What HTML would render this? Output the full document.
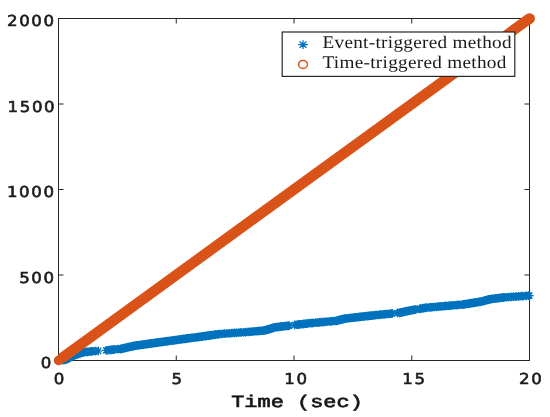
<!DOCTYPE html>
<html lang="en"><head><meta charset="utf-8"><title>Event-triggered vs Time-triggered</title>
<style>
html,body{margin:0;padding:0;background:#fff;}
svg{display:block}
text{text-rendering:geometricPrecision;}
.tick{font-family:"DejaVu Sans","Liberation Sans",sans-serif;font-size:15.1px;fill:#1c1c1c;stroke:#1c1c1c;stroke-width:0.62px;letter-spacing:1.45px;}
.xl{font-family:"Liberation Mono","DejaVu Sans Mono",monospace;font-weight:normal;font-size:17px;fill:#151515;stroke:#151515;stroke-width:0.6px;}
.lg{font-family:"Liberation Serif","DejaVu Serif",serif;font-size:17.8px;fill:#1a1a1a;letter-spacing:0.27px;}
</style></head><body>
<svg width="550" height="417" viewBox="0 0 550 417">
<rect width="550" height="417" fill="#fff"/>

<g stroke="#262626" stroke-width="1" fill="none">
<rect x="58.5" y="18.5" width="471.0" height="342.0"/>
<path d="M58.50 360.5v-5.0M58.50 18.5v5.0"/>
<path d="M176.25 360.5v-5.0M176.25 18.5v5.0"/>
<path d="M294.00 360.5v-5.0M294.00 18.5v5.0"/>
<path d="M411.75 360.5v-5.0M411.75 18.5v5.0"/>
<path d="M529.50 360.5v-5.0M529.50 18.5v5.0"/>
<path d="M58.5 360.50h5.0M529.5 360.50h-5.0"/>
<path d="M58.5 275.00h5.0M529.5 275.00h-5.0"/>
<path d="M58.5 189.50h5.0M529.5 189.50h-5.0"/>
<path d="M58.5 104.00h5.0M529.5 104.00h-5.0"/>
<path d="M58.5 18.50h5.0M529.5 18.50h-5.0"/>
</g>
<path d="M75.0 355.06L76.5 354.52L78.0 353.98L79.5 353.44L81.0 352.91L82.5 352.37L84.0 352.17L85.5 352.02L87.0 351.87L88.5 351.71L90.0 351.56L91.5 351.41L93.0 351.26L94.5 351.15L96.0 351.07L97.5 350.99M109.5 350.01L111.0 349.83L112.5 349.65L114.0 349.48L115.5 349.30L117.0 349.23L118.5 349.17L120.0 349.10L121.5 348.76L123.0 348.42L124.5 348.08L126.0 347.74L127.5 347.40L129.0 347.06L130.5 346.72L132.0 346.38L133.5 346.04L135.0 345.70L136.5 345.49L138.0 345.28L139.5 345.07L141.0 344.87L142.5 344.66L144.0 344.45L145.5 344.24L147.0 344.03L148.5 343.82L150.0 343.61L151.5 343.41L153.0 343.20L154.5 342.99L156.0 342.78L157.5 342.57L159.0 342.36L160.5 342.15L162.0 341.95L163.5 341.74L165.0 341.53L166.5 341.32L168.0 341.11L169.5 340.90L171.0 340.70L172.5 340.49L174.0 340.28L175.5 340.07L177.0 339.87L178.5 339.67L180.0 339.47L181.5 339.27L183.0 339.07L184.5 338.87L186.0 338.67L187.5 338.47L189.0 338.27L190.5 338.07L192.0 337.87L193.5 337.67L195.0 337.47L196.5 337.27L198.0 337.07L199.5 336.87L201.0 336.66L202.5 336.45L204.0 336.24L205.5 336.03L207.0 335.82L208.5 335.61L210.0 335.40L211.5 335.19L213.0 334.98L214.5 334.77L216.0 334.56L217.5 334.35L219.0 334.14L220.5 333.96L222.0 333.85L223.5 333.74L225.0 333.63L226.5 333.52L228.0 333.41L229.5 333.30L231.0 333.19L232.5 333.08L234.0 332.97L235.5 332.86L237.0 332.75L238.5 332.64L240.0 332.53L241.5 332.42L243.0 332.31L244.5 332.20L246.0 332.09L247.5 331.98L249.0 331.87L250.5 331.75L252.0 331.61L253.5 331.47L255.0 331.33L256.5 331.19L258.0 331.05L259.5 330.91L261.0 330.77L262.5 330.63L264.0 330.49L265.5 330.25L267.0 329.78L268.5 329.31L270.0 328.85L271.5 328.38L273.0 327.92L274.5 327.45L276.0 327.18L277.5 327.00L279.0 326.82L280.5 326.64L282.0 326.46L283.5 326.28L285.0 326.10L286.5 325.92M297.0 324.69L298.5 324.52L300.0 324.35L301.5 324.18L303.0 324.00L304.5 323.83L306.0 323.66L307.5 323.49L309.0 323.31L310.5 323.16L312.0 323.02L313.5 322.89L315.0 322.76L316.5 322.62L318.0 322.49L319.5 322.36L321.0 322.23L322.5 322.09L324.0 321.96L325.5 321.83L327.0 321.70L328.5 321.56L330.0 321.43L331.5 321.30L333.0 321.17L334.5 321.03L336.0 320.90L337.5 320.52L339.0 320.13L340.5 319.75L342.0 319.37L343.5 318.98L345.0 318.60L346.5 318.43L348.0 318.26L349.5 318.09L351.0 317.91L352.5 317.74L354.0 317.57L355.5 317.40L357.0 317.23L358.5 317.06L360.0 316.89L361.5 316.71L363.0 316.54L364.5 316.37L366.0 316.20L367.5 316.03L369.0 315.86L370.5 315.69L372.0 315.51L373.5 315.35L375.0 315.20L376.5 315.05L378.0 314.90L379.5 314.75L381.0 314.60L382.5 314.45L384.0 314.30L385.5 314.15L387.0 314.00L388.5 313.85L390.0 313.70M399.0 312.80L400.5 312.59L402.0 312.25L403.5 311.91L405.0 311.57L406.5 311.24L408.0 310.90L409.5 310.63L411.0 310.37L412.5 310.10M423.0 308.23L424.5 307.97L426.0 307.70L427.5 307.57L429.0 307.44L430.5 307.31L432.0 307.18L433.5 307.05L435.0 306.92L436.5 306.79L438.0 306.66L439.5 306.53L441.0 306.40L442.5 306.27L444.0 306.14L445.5 306.01L447.0 305.88L448.5 305.75L450.0 305.62L451.5 305.49L453.0 305.36L454.5 305.24L456.0 305.11L457.5 304.98L459.0 304.85L460.5 304.72L462.0 304.59L463.5 304.42L465.0 304.18L466.5 303.94L468.0 303.69L469.5 303.45L471.0 303.21L472.5 302.97L474.0 302.73L475.5 302.49L477.0 302.24L478.5 302.00L480.0 301.76L481.5 301.47L483.0 301.07L484.5 300.67L486.0 300.27L487.5 299.87L489.0 299.47L490.5 299.14L492.0 298.95L493.5 298.76L495.0 298.57L496.5 298.38L498.0 298.19L499.5 298.00L501.0 297.81L502.5 297.62L504.0 297.43L505.5 297.27L507.0 297.17L508.5 297.07L510.0 296.97L511.5 296.87L513.0 296.77L514.5 296.67L516.0 296.57L517.5 296.47L519.0 296.37L520.5 296.26L522.0 296.15L523.5 296.04L525.0 295.93L526.5 295.82" stroke="#0072BD" stroke-width="7.6" fill="none" stroke-linejoin="round"/>
<path d="M54.28 360.50H62.48M58.38 356.15V364.85M55.48 357.42L61.28 363.58M55.48 363.58L61.28 357.42M56.44 360.33H64.64M60.54 355.98V364.68M57.64 357.25L63.43 363.40M57.64 363.40L63.43 357.25M58.74 360.16H66.94M62.84 355.81V364.51M59.94 357.08L65.74 363.23M59.94 363.23L65.74 357.08M59.29 359.99H67.49M63.39 355.64V364.34M60.49 356.91L66.29 363.06M60.49 363.06L66.29 356.91M60.56 359.82H68.76M64.66 355.47V364.17M61.77 356.74L67.56 362.89M61.77 362.89L67.56 356.74M61.40 359.64H69.60M65.50 355.29V364.00M62.60 356.57L68.40 362.72M62.60 362.72L68.40 356.57M62.03 359.47H70.23M66.13 355.12V363.82M63.23 356.40L69.03 362.55M63.23 362.55L69.03 356.40M62.63 359.30H70.83M66.73 354.95V363.65M63.83 356.23L69.63 362.38M63.83 362.38L69.63 356.23M62.58 359.13H70.78M66.68 354.78V363.48M63.78 356.06L69.58 362.21M63.78 362.21L69.58 356.06M63.14 358.96H71.34M67.24 354.61V363.31M64.34 355.89L70.13 362.04M64.34 362.04L70.13 355.89M63.16 358.79H71.36M67.26 354.44V363.14M64.36 355.71L70.16 361.87M64.36 361.87L70.16 355.71M63.46 358.62H71.66M67.56 354.27V362.97M64.66 355.54L70.45 361.69M64.66 361.69L70.45 355.54M63.97 358.45H72.17M68.07 354.10V362.80M65.17 355.37L70.97 361.52M65.17 361.52L70.97 355.37M64.53 358.28H72.73M68.63 353.93V362.63M65.73 355.20L71.53 361.35M65.73 361.35L71.53 355.20M64.32 358.11H72.52M68.42 353.76V362.46M65.52 355.03L71.32 361.18M65.52 361.18L71.32 355.03M64.67 357.94H72.87M68.77 353.58V362.29M65.87 354.86L71.67 361.01M65.87 361.01L71.67 354.86M65.23 357.76H73.43M69.33 353.41V362.11M66.43 354.69L72.23 360.84M66.43 360.84L72.23 354.69M65.73 357.59H73.93M69.83 353.24V361.94M66.93 354.52L72.73 360.67M66.93 360.67L72.73 354.52M65.75 357.42H73.95M69.85 353.07V361.77M66.96 354.35L72.75 360.50M66.96 360.50L72.75 354.35M65.91 357.25H74.11M70.01 352.90V361.60M67.11 354.18L72.91 360.33M67.11 360.33L72.91 354.18M66.59 357.08H74.79M70.69 352.73V361.43M67.79 354.00L73.59 360.16M67.79 360.16L73.59 354.00M66.22 356.91H74.42M70.32 352.56V361.26M67.42 353.83L73.22 359.98M67.42 359.98L73.22 353.83M67.07 356.74H75.27M71.17 352.39V361.09M68.27 353.66L74.07 359.81M68.27 359.81L74.07 353.66M66.95 356.57H75.15M71.05 352.22V360.92M68.15 353.49L73.95 359.64M68.15 359.64L73.95 353.49M67.13 356.40H75.33M71.23 352.05V360.75M68.33 353.32L74.13 359.47M68.33 359.47L74.13 353.32M67.39 356.23H75.59M71.49 351.88V360.58M68.59 353.15L74.39 359.30M68.59 359.30L74.39 353.15M67.97 356.05H76.17M72.07 351.70V360.40M69.17 352.98L74.97 359.13M69.17 359.13L74.97 352.98M68.81 355.88H77.01M72.91 351.53V360.23M70.01 352.81L75.81 358.96M70.01 358.96L75.81 352.81M68.84 355.71H77.04M72.94 351.36V360.06M70.04 352.64L75.84 358.79M70.04 358.79L75.84 352.64M69.60 355.54H77.80M73.70 351.19V359.89M70.80 352.47L76.60 358.62M70.80 358.62L76.60 352.47M70.12 355.37H78.32M74.22 351.02V359.72M71.32 352.29L77.12 358.45M71.32 358.45L77.12 352.29M70.41 355.20H78.61M74.51 350.85V359.55M71.61 352.12L77.41 358.27M71.61 358.27L77.41 352.12M71.01 355.03H79.21M75.11 350.68V359.38M72.21 351.95L78.01 358.10M72.21 358.10L78.01 351.95M71.15 354.86H79.35M75.25 350.51V359.21M72.35 351.78L78.15 357.93M72.35 357.93L78.15 351.78M71.62 354.69H79.82M75.72 350.34V359.04M72.82 351.61L78.62 357.76M72.82 357.76L78.62 351.61M72.20 354.51H80.40M76.30 350.16V358.87M73.40 351.44L79.20 357.59M73.40 357.59L79.20 351.44M73.01 354.34H81.21M77.11 349.99V358.69M74.21 351.27L80.01 357.42M74.21 357.42L80.01 351.27M73.31 354.17H81.51M77.41 349.82V358.52M74.52 351.10L80.31 357.25M74.52 357.25L80.31 351.10M73.71 354.00H81.91M77.81 349.65V358.35M74.91 350.93L80.71 357.08M74.91 357.08L80.71 350.93M74.38 353.83H82.58M78.48 349.48V358.18M75.58 350.76L81.38 356.91M75.58 356.91L81.38 350.76M74.77 353.66H82.97M78.87 349.31V358.01M75.97 350.58L81.77 356.74M75.97 356.74L81.77 350.58M75.14 353.49H83.34M79.24 349.14V357.84M76.34 350.41L82.14 356.56M76.34 356.56L82.14 350.41M75.96 353.32H84.16M80.06 348.97V357.67M77.16 350.24L82.96 356.39M77.16 356.39L82.96 350.24M76.37 353.15H84.57M80.47 348.80V357.50M77.57 350.07L83.37 356.22M77.57 356.22L83.37 350.07M76.53 352.98H84.73M80.63 348.63V357.33M77.73 349.90L83.53 356.05M77.73 356.05L83.53 349.90M77.24 352.81H85.44M81.34 348.45V357.16M78.44 349.73L84.24 355.88M78.44 355.88L84.24 349.73M77.68 352.63H85.88M81.78 348.28V356.98M78.89 349.56L84.68 355.71M78.89 355.71L84.68 349.56M78.41 352.46H86.61M82.51 348.11V356.81M79.61 349.39L85.41 355.54M79.61 355.54L85.41 349.39M78.84 352.29H87.04M82.94 347.94V356.64M80.04 349.22L85.84 355.37M80.04 355.37L85.84 349.22M80.23 352.12H88.43M84.33 347.77V356.47M81.43 349.05L87.22 355.20M81.43 355.20L87.22 349.05M82.40 351.95H90.60M86.50 347.60V356.30M83.61 348.87L89.40 355.03M83.61 355.03L89.40 348.87M83.50 351.78H91.70M87.60 347.43V356.13M84.70 348.70L90.49 354.85M84.70 354.85L90.49 348.70M85.40 351.61H93.60M89.50 347.26V355.96M86.60 348.53L92.40 354.68M86.60 354.68L92.40 348.53M87.33 351.44H95.53M91.43 347.09V355.79M88.53 348.36L94.33 354.51M88.53 354.51L94.33 348.36M88.60 351.27H96.80M92.70 346.92V355.62M89.80 348.19L95.60 354.34M89.80 354.34L95.60 348.19M91.40 351.10H99.60M95.50 346.75V355.45M92.60 348.02L98.40 354.17M92.60 354.17L98.40 348.02M94.19 350.92H102.39M98.29 346.57V355.27M95.39 347.85L101.19 354.00M95.39 354.00L101.19 347.85M102.05 350.41H110.25M106.15 346.06V354.76M103.25 347.34L109.05 353.49M103.25 353.49L109.05 347.34M103.71 350.24H111.91M107.81 345.89V354.59M104.91 347.16L110.71 353.32M104.91 353.32L110.71 347.16M104.76 350.07H112.96M108.86 345.72V354.42M105.96 346.99L111.76 353.14M105.96 353.14L111.76 346.99M106.48 349.90H114.68M110.58 345.55V354.25M107.68 346.82L113.48 352.97M107.68 352.97L113.48 346.82M107.85 349.73H116.05M111.95 345.38V354.08M109.05 346.65L114.85 352.80M109.05 352.80L114.85 346.65M109.29 349.56H117.49M113.39 345.21V353.91M110.49 346.48L116.29 352.63M110.49 352.63L116.29 346.48M110.65 349.38H118.85M114.75 345.03V353.74M111.85 346.31L117.65 352.46M111.85 352.46L117.65 346.31M113.57 349.21H121.77M117.67 344.86V353.56M114.77 346.14L120.57 352.29M114.77 352.29L120.57 346.14M116.46 349.04H124.66M120.56 344.69V353.39M117.66 345.97L123.46 352.12M117.66 352.12L123.46 345.97M116.89 348.87H125.09M120.99 344.52V353.22M118.09 345.80L123.89 351.95M118.09 351.95L123.89 345.80M117.78 348.70H125.98M121.88 344.35V353.05M118.98 345.63L124.77 351.78M118.98 351.78L124.77 345.63M118.11 348.53H126.31M122.21 344.18V352.88M119.31 345.45L125.11 351.61M119.31 351.61L125.11 345.45M119.31 348.36H127.51M123.41 344.01V352.71M120.51 345.28L126.31 351.43M120.51 351.43L126.31 345.28M120.03 348.19H128.23M124.13 343.84V352.54M121.23 345.11L127.03 351.26M121.23 351.26L127.03 345.11M121.02 348.02H129.22M125.12 343.67V352.37M122.22 344.94L128.02 351.09M122.22 351.09L128.02 344.94M121.66 347.85H129.86M125.76 343.50V352.20M122.86 344.77L128.66 350.92M122.86 350.92L128.66 344.77M122.04 347.68H130.24M126.14 343.32V352.03M123.24 344.60L129.04 350.75M123.24 350.75L129.04 344.60M122.86 347.50H131.06M126.96 343.15V351.85M124.06 344.43L129.86 350.58M124.06 350.58L129.86 344.43M123.81 347.33H132.01M127.91 342.98V351.68M125.01 344.26L130.81 350.41M125.01 350.41L130.81 344.26M124.12 347.16H132.32M128.22 342.81V351.51M125.32 344.09L131.11 350.24M125.32 350.24L131.11 344.09M125.18 346.99H133.38M129.28 342.64V351.34M126.38 343.92L132.18 350.07M126.38 350.07L132.18 343.92M125.73 346.82H133.93M129.83 342.47V351.17M126.93 343.74L132.73 349.90M126.93 349.90L132.73 343.74M126.45 346.65H134.65M130.55 342.30V351.00M127.65 343.57L133.44 349.72M127.65 349.72L133.44 343.57M127.16 346.48H135.36M131.26 342.13V350.83M128.36 343.40L134.16 349.55M128.36 349.55L134.16 343.40M128.41 346.31H136.61M132.51 341.96V350.66M129.61 343.23L135.41 349.38M129.61 349.38L135.41 343.23M128.72 346.14H136.92M132.82 341.79V350.49M129.92 343.06L135.72 349.21M129.92 349.21L135.72 343.06M129.55 345.96H137.75M133.65 341.61V350.31M130.76 342.89L136.55 349.04M130.76 349.04L136.55 342.89M130.41 345.79H138.61M134.51 341.44V350.14M131.61 342.72L137.41 348.87M131.61 348.87L137.41 342.72M131.71 345.62H139.91M135.81 341.27V349.97M132.91 342.55L138.71 348.70M132.91 348.70L138.71 342.55M132.39 345.45H140.59M136.49 341.10V349.80M133.59 342.38L139.39 348.53M133.59 348.53L139.39 342.38M133.88 345.28H142.08M137.98 340.93V349.63M135.08 342.21L140.88 348.36M135.08 348.36L140.88 342.21M135.18 345.11H143.38M139.28 340.76V349.46M136.38 342.03L142.18 348.19M136.38 348.19L142.18 342.03M136.64 344.94H144.84M140.74 340.59V349.29M137.84 341.86L143.64 348.01M137.84 348.01L143.64 341.86M137.83 344.77H146.03M141.93 340.42V349.12M139.03 341.69L144.83 347.84M139.03 347.84L144.83 341.69M139.09 344.60H147.29M143.19 340.25V348.95M140.29 341.52L146.09 347.67M140.29 347.67L146.09 341.52M139.91 344.43H148.11M144.01 340.08V348.78M141.11 341.35L146.91 347.50M141.11 347.50L146.91 341.35M141.23 344.25H149.43M145.33 339.90V348.61M142.44 341.18L148.23 347.33M142.44 347.33L148.23 341.18M142.42 344.08H150.62M146.52 339.73V348.43M143.63 341.01L149.42 347.16M143.63 347.16L149.42 341.01M144.02 343.91H152.22M148.12 339.56V348.26M145.22 340.84L151.02 346.99M145.22 346.99L151.02 340.84M145.30 343.74H153.50M149.40 339.39V348.09M146.51 340.67L152.30 346.82M146.51 346.82L152.30 340.67M145.97 343.57H154.17M150.07 339.22V347.92M147.17 340.50L152.97 346.65M147.17 346.65L152.97 340.50M147.22 343.40H155.42M151.32 339.05V347.75M148.42 340.32L154.22 346.48M148.42 346.48L154.22 340.32M148.49 343.23H156.69M152.59 338.88V347.58M149.69 340.15L155.49 346.30M149.69 346.30L155.49 340.15M149.72 343.06H157.92M153.82 338.71V347.41M150.92 339.98L156.72 346.13M150.92 346.13L156.72 339.98M151.12 342.89H159.32M155.22 338.54V347.24M152.32 339.81L158.12 345.96M152.32 345.96L158.12 339.81M152.43 342.72H160.63M156.53 338.37V347.07M153.63 339.64L159.43 345.79M153.63 345.79L159.43 339.64M153.43 342.55H161.63M157.53 338.19V346.90M154.63 339.47L160.43 345.62M154.63 345.62L160.43 339.47M154.48 342.37H162.68M158.58 338.02V346.72M155.68 339.30L161.48 345.45M155.68 345.45L161.48 339.30M156.00 342.20H164.20M160.10 337.85V346.55M157.20 339.13L163.00 345.28M157.20 345.28L163.00 339.13M157.19 342.03H165.39M161.29 337.68V346.38M158.39 338.96L164.19 345.11M158.39 345.11L164.19 338.96M158.56 341.86H166.76M162.66 337.51V346.21M159.76 338.79L165.56 344.94M159.76 344.94L165.56 338.79M160.06 341.69H168.26M164.16 337.34V346.04M161.26 338.61L167.06 344.77M161.26 344.77L167.06 338.61M161.11 341.52H169.31M165.21 337.17V345.87M162.31 338.44L168.11 344.59M162.31 344.59L168.11 338.44M162.21 341.35H170.41M166.31 337.00V345.70M163.42 338.27L169.21 344.42M163.42 344.42L169.21 338.27M163.52 341.18H171.72M167.62 336.83V345.53M164.72 338.10L170.52 344.25M164.72 344.25L170.52 338.10M164.79 341.01H172.99M168.89 336.66V345.36M165.99 337.93L171.79 344.08M165.99 344.08L171.79 337.93M165.58 340.83H173.78M169.68 336.48V345.19M166.78 337.76L172.58 343.91M166.78 343.91L172.58 337.76M167.40 340.66H175.60M171.50 336.31V345.01M168.60 337.59L174.40 343.74M168.60 343.74L174.40 337.59M168.55 340.49H176.75M172.65 336.14V344.84M169.75 337.42L175.55 343.57M169.75 343.57L175.55 337.42M169.85 340.32H178.05M173.95 335.97V344.67M171.05 337.25L176.85 343.40M171.05 343.40L176.85 337.25M171.02 340.15H179.22M175.12 335.80V344.50M172.22 337.08L178.02 343.23M172.22 343.23L178.02 337.08M171.97 339.98H180.17M176.07 335.63V344.33M173.18 336.90L178.97 343.06M173.18 343.06L178.97 336.90M173.26 339.81H181.46M177.36 335.46V344.16M174.46 336.73L180.26 342.88M174.46 342.88L180.26 336.73M174.34 339.64H182.54M178.44 335.29V343.99M175.54 336.56L181.34 342.71M175.54 342.71L181.34 336.56M175.99 339.47H184.19M180.09 335.12V343.82M177.19 336.39L182.99 342.54M177.19 342.54L182.99 336.39M176.87 339.30H185.07M180.97 334.95V343.65M178.07 336.22L183.87 342.37M178.07 342.37L183.87 336.22M178.16 339.12H186.36M182.26 334.77V343.48M179.36 336.05L185.16 342.20M179.36 342.20L185.16 336.05M179.54 338.95H187.74M183.64 334.60V343.30M180.74 335.88L186.54 342.03M180.74 342.03L186.54 335.88M180.79 338.78H188.99M184.89 334.43V343.13M181.99 335.71L187.79 341.86M181.99 341.86L187.79 335.71M182.20 338.61H190.40M186.30 334.26V342.96M183.40 335.54L189.20 341.69M183.40 341.69L189.20 335.54M183.28 338.44H191.48M187.38 334.09V342.79M184.48 335.37L190.28 341.52M184.48 341.52L190.28 335.37M184.53 338.27H192.73M188.63 333.92V342.62M185.73 335.19L191.52 341.35M185.73 341.35L191.52 335.19M185.91 338.10H194.11M190.01 333.75V342.45M187.11 335.02L192.91 341.17M187.11 341.17L192.91 335.02M187.16 337.93H195.36M191.26 333.58V342.28M188.36 334.85L194.16 341.00M188.36 341.00L194.16 334.85M188.63 337.76H196.83M192.73 333.41V342.11M189.83 334.68L195.63 340.83M189.83 340.83L195.63 334.68M189.67 337.59H197.87M193.77 333.24V341.94M190.87 334.51L196.67 340.66M190.87 340.66L196.67 334.51M191.55 337.42H199.75M195.65 333.06V341.77M192.75 334.34L198.55 340.49M192.75 340.49L198.55 334.34M192.65 337.24H200.85M196.75 332.89V341.59M193.85 334.17L199.65 340.32M193.85 340.32L199.65 334.17M193.61 337.07H201.81M197.71 332.72V341.42M194.81 334.00L200.61 340.15M194.81 340.15L200.61 334.00M194.96 336.90H203.16M199.06 332.55V341.25M196.16 333.83L201.96 339.98M196.16 339.98L201.96 333.83M196.29 336.73H204.49M200.39 332.38V341.08M197.49 333.66L203.29 339.81M197.49 339.81L203.29 333.66M197.52 336.56H205.72M201.62 332.21V340.91M198.72 333.48L204.52 339.64M198.72 339.64L204.52 333.48M198.57 336.39H206.77M202.67 332.04V340.74M199.77 333.31L205.57 339.46M199.77 339.46L205.57 333.31M200.30 336.22H208.50M204.40 331.87V340.57M201.50 333.14L207.30 339.29M201.50 339.29L207.30 333.14M201.62 336.05H209.82M205.72 331.70V340.40M202.82 332.97L208.62 339.12M202.82 339.12L208.62 332.97M202.48 335.88H210.68M206.58 331.53V340.23M203.68 332.80L209.48 338.95M203.68 338.95L209.48 332.80M203.71 335.70H211.91M207.81 331.35V340.06M204.91 332.63L210.71 338.78M204.91 338.78L210.71 332.63M204.65 335.53H212.85M208.75 331.18V339.88M205.85 332.46L211.65 338.61M205.85 338.61L211.65 332.46M205.89 335.36H214.09M209.99 331.01V339.71M207.09 332.29L212.88 338.44M207.09 338.44L212.88 332.29M207.28 335.19H215.48M211.38 330.84V339.54M208.48 332.12L214.27 338.27M208.48 338.27L214.27 332.12M208.44 335.02H216.64M212.54 330.67V339.37M209.64 331.95L215.44 338.10M209.64 338.10L215.44 331.95M210.06 334.85H218.26M214.16 330.50V339.20M211.26 331.77L217.06 337.93M211.26 337.93L217.06 331.77M210.81 334.68H219.01M214.91 330.33V339.03M212.01 331.60L217.81 337.75M212.01 337.75L217.81 331.60M211.94 334.51H220.14M216.04 330.16V338.86M213.14 331.43L218.94 337.58M213.14 337.58L218.94 331.43M213.81 334.34H222.01M217.91 329.99V338.69M215.01 331.26L220.81 337.41M215.01 337.41L220.81 331.26M214.73 334.17H222.93M218.83 329.82V338.52M215.93 331.09L221.73 337.24M215.93 337.24L221.73 331.09M215.72 334.00H223.92M219.82 329.64V338.35M216.92 330.92L222.72 337.07M216.92 337.07L222.72 330.92M218.33 333.82H226.53M222.43 329.47V338.17M219.53 330.75L225.33 336.90M219.53 336.90L225.33 330.75M220.30 333.65H228.50M224.40 329.30V338.00M221.50 330.58L227.30 336.73M221.50 336.73L227.30 330.58M222.98 333.48H231.18M227.08 329.13V337.83M224.18 330.41L229.98 336.56M224.18 336.56L229.98 330.41M225.63 333.31H233.83M229.73 328.96V337.66M226.83 330.24L232.63 336.39M226.83 336.39L232.63 330.24M227.88 333.14H236.08M231.98 328.79V337.49M229.08 330.06L234.88 336.22M229.08 336.22L234.88 330.06M230.10 332.97H238.30M234.20 328.62V337.32M231.30 329.89L237.10 336.04M231.30 336.04L237.10 329.89M232.12 332.80H240.32M236.22 328.45V337.15M233.32 329.72L239.12 335.87M233.32 335.87L239.12 329.72M234.53 332.63H242.73M238.63 328.28V336.98M235.73 329.55L241.53 335.70M235.73 335.70L241.53 329.55M236.72 332.46H244.92M240.82 328.11V336.81M237.92 329.38L243.72 335.53M237.92 335.53L243.72 329.38M239.48 332.28H247.68M243.58 327.93V336.63M240.68 329.21L246.48 335.36M240.68 335.36L246.48 329.21M241.64 332.11H249.84M245.74 327.76V336.46M242.84 329.04L248.64 335.19M242.84 335.19L248.64 329.04M244.15 331.94H252.35M248.25 327.59V336.29M245.35 328.87L251.14 335.02M245.35 335.02L251.14 328.87M246.08 331.77H254.28M250.18 327.42V336.12M247.28 328.70L253.08 334.85M247.28 334.85L253.08 328.70M247.84 331.60H256.04M251.94 327.25V335.95M249.04 328.53L254.84 334.68M249.04 334.68L254.84 328.53M250.08 331.43H258.28M254.18 327.08V335.78M251.28 328.35L257.08 334.51M251.28 334.51L257.08 328.35M252.04 331.26H260.24M256.14 326.91V335.61M253.24 328.18L259.03 334.33M253.24 334.33L259.03 328.18M253.78 331.09H261.98M257.88 326.74V335.44M254.98 328.01L260.77 334.16M254.98 334.16L260.77 328.01M255.57 330.92H263.77M259.67 326.57V335.27M256.78 327.84L262.57 333.99M256.78 333.99L262.57 327.84M257.42 330.75H265.62M261.52 326.40V335.10M258.62 327.67L264.41 333.82M258.62 333.82L264.41 327.67M259.19 330.57H267.39M263.29 326.22V334.93M260.39 327.50L266.19 333.65M260.39 333.65L266.19 327.50M260.67 330.40H268.87M264.77 326.05V334.75M261.87 327.33L267.66 333.48M261.87 333.48L267.66 327.33M261.45 330.23H269.65M265.55 325.88V334.58M262.65 327.16L268.45 333.31M262.65 333.31L268.45 327.16M261.89 330.06H270.09M265.99 325.71V334.41M263.09 326.99L268.89 333.14M263.09 333.14L268.89 326.99M262.21 329.89H270.41M266.31 325.54V334.24M263.41 326.82L269.21 332.97M263.41 332.97L269.21 326.82M262.76 329.72H270.96M266.86 325.37V334.07M263.96 326.64L269.76 332.80M263.96 332.80L269.76 326.64M263.49 329.55H271.69M267.59 325.20V333.90M264.69 326.47L270.49 332.62M264.69 332.62L270.49 326.47M264.03 329.38H272.23M268.13 325.03V333.73M265.23 326.30L271.03 332.45M265.23 332.45L271.03 326.30M264.88 329.21H273.08M268.98 324.86V333.56M266.08 326.13L271.88 332.28M266.08 332.28L271.88 326.13M265.62 329.04H273.82M269.72 324.69V333.39M266.82 325.96L272.62 332.11M266.82 332.11L272.62 325.96M265.81 328.87H274.01M269.91 324.51V333.22M267.02 325.79L272.81 331.94M267.02 331.94L272.81 325.79M266.71 328.69H274.91M270.81 324.34V333.04M267.91 325.62L273.71 331.77M267.91 331.77L273.71 325.62M267.30 328.52H275.50M271.40 324.17V332.87M268.50 325.45L274.30 331.60M268.50 331.60L274.30 325.45M267.82 328.35H276.02M271.92 324.00V332.70M269.03 325.28L274.82 331.43M269.03 331.43L274.82 325.28M267.96 328.18H276.16M272.06 323.83V332.53M269.16 325.11L274.96 331.26M269.16 331.26L274.96 325.11M268.41 328.01H276.61M272.51 323.66V332.36M269.61 324.93L275.41 331.09M269.61 331.09L275.41 324.93M268.97 327.84H277.17M273.07 323.49V332.19M270.17 324.76L275.97 330.91M270.17 330.91L275.97 324.76M269.50 327.67H277.70M273.60 323.32V332.02M270.70 324.59L276.50 330.74M270.70 330.74L276.50 324.59M270.06 327.50H278.26M274.16 323.15V331.85M271.26 324.42L277.06 330.57M271.26 330.57L277.06 324.42M270.90 327.33H279.10M275.00 322.98V331.68M272.10 324.25L277.90 330.40M272.10 330.40L277.90 324.25M272.39 327.15H280.59M276.49 322.80V331.50M273.59 324.08L279.39 330.23M273.59 330.23L279.39 324.08M273.77 326.98H281.97M277.87 322.63V331.33M274.97 323.91L280.77 330.06M274.97 330.06L280.77 323.91M274.94 326.81H283.14M279.04 322.46V331.16M276.14 323.74L281.94 329.89M276.14 329.89L281.94 323.74M276.49 326.64H284.69M280.59 322.29V330.99M277.69 323.57L283.49 329.72M277.69 329.72L283.49 323.57M278.02 326.47H286.22M282.12 322.12V330.82M279.22 323.40L285.02 329.55M279.22 329.55L285.02 323.40M278.94 326.30H287.14M283.04 321.95V330.65M280.14 323.22L285.94 329.38M280.14 329.38L285.94 323.22M280.77 326.13H288.97M284.87 321.78V330.48M281.97 323.05L287.77 329.20M281.97 329.20L287.77 323.05M282.37 325.96H290.57M286.47 321.61V330.31M283.57 322.88L289.37 329.03M283.57 329.03L289.37 322.88M283.71 325.79H291.91M287.81 321.44V330.14M284.91 322.71L290.71 328.86M284.91 328.86L290.71 322.71M285.11 325.62H293.31M289.21 321.27V329.97M286.31 322.54L292.11 328.69M286.31 328.69L292.11 322.54M290.72 324.93H298.92M294.82 320.58V329.28M291.92 321.86L297.72 328.01M291.92 328.01L297.72 321.86M292.54 324.76H300.74M296.64 320.41V329.11M293.74 321.69L299.54 327.84M293.74 327.84L299.54 321.69M294.14 324.59H302.34M298.24 320.24V328.94M295.34 321.51L301.14 327.67M295.34 327.67L301.14 321.51M295.23 324.42H303.43M299.33 320.07V328.77M296.43 321.34L302.23 327.49M296.43 327.49L302.23 321.34M296.72 324.25H304.92M300.82 319.90V328.60M297.92 321.17L303.72 327.32M297.92 327.32L303.72 321.17M298.59 324.08H306.79M302.69 319.73V328.43M299.79 321.00L305.59 327.15M299.79 327.15L305.59 321.00M299.92 323.91H308.12M304.02 319.56V328.26M301.12 320.83L306.92 326.98M301.12 326.98L306.92 320.83M301.02 323.74H309.22M305.12 319.38V328.09M302.22 320.66L308.02 326.81M302.22 326.81L308.02 320.66M302.47 323.56H310.67M306.57 319.21V327.91M303.67 320.49L309.47 326.64M303.67 326.64L309.47 320.49M303.98 323.39H312.18M308.08 319.04V327.74M305.18 320.32L310.98 326.47M305.18 326.47L310.98 320.32M305.99 323.22H314.19M310.09 318.87V327.57M307.19 320.15L312.99 326.30M307.19 326.30L312.99 320.15M307.80 323.05H316.00M311.90 318.70V327.40M309.00 319.98L314.80 326.13M309.00 326.13L314.80 319.98M309.27 322.88H317.47M313.37 318.53V327.23M310.47 319.80L316.27 325.96M310.47 325.96L316.27 319.80M311.68 322.71H319.88M315.78 318.36V327.06M312.88 319.63L318.68 325.78M312.88 325.78L318.68 319.63M313.72 322.54H321.92M317.82 318.19V326.89M314.92 319.46L320.72 325.61M314.92 325.61L320.72 319.46M315.43 322.37H323.63M319.53 318.02V326.72M316.63 319.29L322.43 325.44M316.63 325.44L322.43 319.29M317.14 322.20H325.34M321.24 317.85V326.55M318.35 319.12L324.14 325.27M318.35 325.27L324.14 319.12M319.22 322.02H327.42M323.32 317.67V326.38M320.42 318.95L326.22 325.10M320.42 325.10L326.22 318.95M320.86 321.85H329.06M324.96 317.50V326.20M322.06 318.78L327.86 324.93M322.06 324.93L327.86 318.78M322.71 321.68H330.91M326.81 317.33V326.03M323.91 318.61L329.71 324.76M323.91 324.76L329.71 318.61M325.31 321.51H333.51M329.41 317.16V325.86M326.51 318.44L332.31 324.59M326.51 324.59L332.31 318.44M327.02 321.34H335.22M331.12 316.99V325.69M328.22 318.27L334.02 324.42M328.22 324.42L334.02 318.27M328.87 321.17H337.07M332.97 316.82V325.52M330.07 318.09L335.87 324.25M330.07 324.25L335.87 318.09M331.08 321.00H339.28M335.18 316.65V325.35M332.29 317.92L338.08 324.07M332.29 324.07L338.08 317.92M332.14 320.83H340.34M336.24 316.48V325.18M333.34 317.75L339.13 323.90M333.34 323.90L339.13 317.75M333.11 320.66H341.31M337.21 316.31V325.01M334.31 317.58L340.11 323.73M334.31 323.73L340.11 317.58M333.75 320.49H341.95M337.85 316.14V324.84M334.95 317.41L340.75 323.56M334.95 323.56L340.75 317.41M333.99 320.31H342.19M338.09 315.96V324.67M335.19 317.24L340.99 323.39M335.19 323.39L340.99 317.24M334.68 320.14H342.88M338.78 315.79V324.49M335.89 317.07L341.68 323.22M335.89 323.22L341.68 317.07M335.38 319.97H343.58M339.48 315.62V324.32M336.58 316.90L342.38 323.05M336.58 323.05L342.38 316.90M336.01 319.80H344.21M340.11 315.45V324.15M337.22 316.73L343.01 322.88M337.22 322.88L343.01 316.73M336.93 319.63H345.13M341.03 315.28V323.98M338.13 316.56L343.93 322.71M338.13 322.71L343.93 316.56M337.37 319.46H345.57M341.47 315.11V323.81M338.57 316.38L344.37 322.54M338.57 322.54L344.37 316.38M338.15 319.29H346.35M342.25 314.94V323.64M339.35 316.21L345.15 322.36M339.35 322.36L345.15 316.21M338.61 319.12H346.81M342.71 314.77V323.47M339.82 316.04L345.61 322.19M339.82 322.19L345.61 316.04M339.83 318.95H348.03M343.93 314.60V323.30M341.03 315.87L346.83 322.02M341.03 322.02L346.83 315.87M340.11 318.78H348.31M344.21 314.43V323.13M341.31 315.70L347.11 321.85M341.31 321.85L347.11 315.70M340.85 318.61H349.05M344.95 314.25V322.96M342.05 315.53L347.85 321.68M342.05 321.68L347.85 315.53M342.41 318.43H350.61M346.51 314.08V322.78M343.61 315.36L349.41 321.51M343.61 321.51L349.41 315.36M344.13 318.26H352.33M348.23 313.91V322.61M345.33 315.19L351.13 321.34M345.33 321.34L351.13 315.19M345.29 318.09H353.49M349.39 313.74V322.44M346.49 315.02L352.29 321.17M346.49 321.17L352.29 315.02M347.13 317.92H355.33M351.23 313.57V322.27M348.33 314.85L354.13 321.00M348.33 321.00L354.13 314.85M348.34 317.75H356.54M352.44 313.40V322.10M349.54 314.67L355.34 320.83M349.54 320.83L355.34 314.67M349.86 317.58H358.06M353.96 313.23V321.93M351.06 314.50L356.86 320.65M351.06 320.65L356.86 314.50M351.35 317.41H359.55M355.45 313.06V321.76M352.55 314.33L358.35 320.48M352.55 320.48L358.35 314.33M352.49 317.24H360.69M356.59 312.89V321.59M353.69 314.16L359.49 320.31M353.69 320.31L359.49 314.16M354.28 317.07H362.48M358.38 312.72V321.42M355.48 313.99L361.28 320.14M355.48 320.14L361.28 313.99M355.60 316.89H363.80M359.70 312.54V321.25M356.80 313.82L362.60 319.97M356.80 319.97L362.60 313.82M356.97 316.72H365.17M361.07 312.37V321.07M358.17 313.65L363.97 319.80M358.17 319.80L363.97 313.65M359.02 316.55H367.22M363.12 312.20V320.90M360.22 313.48L366.02 319.63M360.22 319.63L366.02 313.48M360.08 316.38H368.28M364.18 312.03V320.73M361.28 313.31L367.08 319.46M361.28 319.46L367.08 313.31M361.79 316.21H369.99M365.89 311.86V320.56M362.99 313.14L368.78 319.29M362.99 319.29L368.78 313.14M363.46 316.04H371.66M367.56 311.69V320.39M364.66 312.96L370.46 319.12M364.66 319.12L370.46 312.96M364.84 315.87H373.04M368.94 311.52V320.22M366.04 312.79L371.83 318.94M366.04 318.94L371.83 312.79M366.17 315.70H374.37M370.27 311.35V320.05M367.37 312.62L373.17 318.77M367.37 318.77L373.17 312.62M367.80 315.53H376.00M371.90 311.18V319.88M369.00 312.45L374.80 318.60M369.00 318.60L374.80 312.45M369.38 315.36H377.58M373.48 311.01V319.71M370.58 312.28L376.38 318.43M370.58 318.43L376.38 312.28M371.25 315.19H379.45M375.35 310.83V319.54M372.45 312.11L378.25 318.26M372.45 318.26L378.25 312.11M372.48 315.01H380.68M376.58 310.66V319.36M373.69 311.94L379.48 318.09M373.69 318.09L379.48 311.94M374.51 314.84H382.71M378.61 310.49V319.19M375.71 311.77L381.51 317.92M375.71 317.92L381.51 311.77M376.00 314.67H384.20M380.10 310.32V319.02M377.20 311.60L383.00 317.75M377.20 317.75L383.00 311.60M377.73 314.50H385.93M381.83 310.15V318.85M378.93 311.43L384.73 317.58M378.93 317.58L384.73 311.43M379.79 314.33H387.99M383.89 309.98V318.68M380.99 311.25L386.79 317.41M380.99 317.41L386.79 311.25M381.32 314.16H389.52M385.42 309.81V318.51M382.52 311.08L388.31 317.23M382.52 317.23L388.31 311.08M383.06 313.99H391.26M387.16 309.64V318.34M384.26 310.91L390.06 317.06M384.26 317.06L390.06 310.91M384.91 313.82H393.11M389.01 309.47V318.17M386.11 310.74L391.91 316.89M386.11 316.89L391.91 310.74M386.73 313.65H394.93M390.83 309.30V318.00M387.93 310.57L393.73 316.72M387.93 316.72L393.73 310.57M388.11 313.48H396.31M392.21 309.12V317.83M389.31 310.40L395.11 316.55M389.31 316.55L395.11 310.40M393.29 312.96H401.49M397.39 308.61V317.31M394.49 309.89L400.29 316.04M394.49 316.04L400.29 309.89M395.12 312.79H403.32M399.22 308.44V317.14M396.33 309.72L402.12 315.87M396.33 315.87L402.12 309.72M396.22 312.62H404.42M400.32 308.27V316.97M397.42 309.54L403.22 315.70M397.42 315.70L403.22 309.54M397.04 312.45H405.24M401.14 308.10V316.80M398.24 309.37L404.04 315.52M398.24 315.52L404.04 309.37M397.76 312.28H405.96M401.86 307.93V316.63M398.96 309.20L404.76 315.35M398.96 315.35L404.76 309.20M398.84 312.11H407.04M402.94 307.76V316.46M400.05 309.03L405.84 315.18M400.05 315.18L405.84 309.03M399.44 311.94H407.64M403.54 307.59V316.29M400.64 308.86L406.43 315.01M400.64 315.01L406.43 308.86M400.32 311.76H408.52M404.42 307.41V316.12M401.52 308.69L407.32 314.84M401.52 314.84L407.32 308.69M401.13 311.59H409.33M405.23 307.24V315.94M402.33 308.52L408.12 314.67M402.33 314.67L408.12 308.52M401.41 311.42H409.61M405.51 307.07V315.77M402.61 308.35L408.41 314.50M402.61 314.50L408.41 308.35M402.38 311.25H410.58M406.48 306.90V315.60M403.58 308.18L409.38 314.33M403.58 314.33L409.38 308.18M403.41 311.08H411.61M407.51 306.73V315.43M404.61 308.01L410.40 314.16M404.61 314.16L410.40 308.01M404.09 310.91H412.29M408.19 306.56V315.26M405.29 307.83L411.09 313.99M405.29 313.99L411.09 307.83M404.55 310.74H412.75M408.65 306.39V315.09M405.75 307.66L411.55 313.81M405.75 313.81L411.55 307.66M405.50 310.57H413.70M409.60 306.22V314.92M406.70 307.49L412.50 313.64M406.70 313.64L412.50 307.49M406.69 310.40H414.89M410.79 306.05V314.75M407.89 307.32L413.69 313.47M407.89 313.47L413.69 307.32M407.39 310.23H415.59M411.49 305.88V314.58M408.59 307.15L414.39 313.30M408.59 313.30L414.39 307.15M408.47 310.06H416.67M412.57 305.70V314.41M409.67 306.98L415.47 313.13M409.67 313.13L415.47 306.98M409.32 309.88H417.52M413.42 305.53V314.23M410.52 306.81L416.32 312.96M410.52 312.96L416.32 306.81M410.70 309.71H418.90M414.80 305.36V314.06M411.90 306.64L417.69 312.79M411.90 312.79L417.69 306.64M411.74 309.54H419.94M415.84 305.19V313.89M412.94 306.47L418.74 312.62M412.94 312.62L418.74 306.47M415.50 308.86H423.70M419.60 304.51V313.21M416.70 305.78L422.50 311.93M416.70 311.93L422.50 305.78M416.10 308.69H424.30M420.20 304.34V313.04M417.30 305.61L423.10 311.76M417.30 311.76L423.10 305.61M417.58 308.52H425.78M421.68 304.17V312.87M418.78 305.44L424.58 311.59M418.78 311.59L424.58 305.44M418.60 308.35H426.80M422.70 304.00V312.70M419.80 305.27L425.60 311.42M419.80 311.42L425.60 305.27M419.04 308.17H427.24M423.14 303.82V312.52M420.24 305.10L426.04 311.25M420.24 311.25L426.04 305.10M420.51 308.00H428.71M424.61 303.65V312.35M421.71 304.93L427.51 311.08M421.71 311.08L427.51 304.93M421.09 307.83H429.29M425.19 303.48V312.18M422.29 304.76L428.09 310.91M422.29 310.91L428.09 304.76M422.34 307.66H430.54M426.44 303.31V312.01M423.54 304.59L429.34 310.74M423.54 310.74L429.34 304.59M424.67 307.49H432.87M428.77 303.14V311.84M425.87 304.41L431.67 310.57M425.87 310.57L431.67 304.41M426.54 307.32H434.74M430.64 302.97V311.67M427.74 304.24L433.54 310.39M427.74 310.39L433.54 304.24M428.05 307.15H436.25M432.15 302.80V311.50M429.25 304.07L435.04 310.22M429.25 310.22L435.04 304.07M430.21 306.98H438.41M434.31 302.63V311.33M431.41 303.90L437.21 310.05M431.41 310.05L437.21 303.90M432.25 306.81H440.45M436.35 302.46V311.16M433.45 303.73L439.25 309.88M433.45 309.88L439.25 303.73M434.10 306.63H442.30M438.20 302.28V310.99M435.30 303.56L441.10 309.71M435.30 309.71L441.10 303.56M435.98 306.46H444.18M440.08 302.11V310.81M437.18 303.39L442.98 309.54M437.18 309.54L442.98 303.39M438.04 306.29H446.24M442.14 301.94V310.64M439.24 303.22L445.04 309.37M439.24 309.37L445.04 303.22M440.30 306.12H448.50M444.40 301.77V310.47M441.50 303.05L447.30 309.20M441.50 309.20L447.30 303.05M441.79 305.95H449.99M445.89 301.60V310.30M442.99 302.88L448.79 309.03M442.99 309.03L448.79 302.88M444.14 305.78H452.34M448.24 301.43V310.13M445.34 302.70L451.14 308.86M445.34 308.86L451.14 302.70M446.04 305.61H454.24M450.14 301.26V309.96M447.24 302.53L453.03 308.68M447.24 308.68L453.03 302.53M447.72 305.44H455.92M451.82 301.09V309.79M448.92 302.36L454.72 308.51M448.92 308.51L454.72 302.36M449.91 305.27H458.11M454.01 300.92V309.62M451.11 302.19L456.91 308.34M451.11 308.34L456.91 302.19M452.10 305.10H460.30M456.20 300.75V309.45M453.30 302.02L459.09 308.17M453.30 308.17L459.09 302.02M453.99 304.93H462.19M458.09 300.57V309.28M455.20 301.85L460.99 308.00M455.20 308.00L460.99 301.85M455.66 304.75H463.86M459.76 300.40V309.10M456.86 301.68L462.66 307.83M456.86 307.83L462.66 301.68M458.28 304.58H466.48M462.38 300.23V308.93M459.48 301.51L465.28 307.66M459.48 307.66L465.28 301.51M459.65 304.41H467.85M463.75 300.06V308.76M460.85 301.34L466.65 307.49M460.85 307.49L466.65 301.34M460.84 304.24H469.04M464.94 299.89V308.59M462.04 301.17L467.84 307.32M462.04 307.32L467.84 301.17M461.29 304.07H469.49M465.39 299.72V308.42M462.49 300.99L468.29 307.15M462.49 307.15L468.29 300.99M462.47 303.90H470.67M466.57 299.55V308.25M463.67 300.82L469.47 306.97M463.67 306.97L469.47 300.82M463.37 303.73H471.57M467.47 299.38V308.08M464.57 300.65L470.37 306.80M464.57 306.80L470.37 300.65M464.95 303.56H473.15M469.05 299.21V307.91M466.15 300.48L471.95 306.63M466.15 306.63L471.95 300.48M465.65 303.39H473.85M469.75 299.04V307.74M466.85 300.31L472.65 306.46M466.85 306.46L472.65 300.31M466.62 303.21H474.82M470.72 298.86V307.56M467.82 300.14L473.62 306.29M467.82 306.29L473.62 300.14M467.88 303.04H476.08M471.98 298.69V307.39M469.08 299.97L474.88 306.12M469.08 306.12L474.88 299.97M469.29 302.87H477.49M473.39 298.52V307.22M470.49 299.80L476.29 305.95M470.49 305.95L476.29 299.80M470.28 302.70H478.48M474.38 298.35V307.05M471.48 299.63L477.28 305.78M471.48 305.78L477.28 299.63M470.95 302.53H479.15M475.05 298.18V306.88M472.15 299.46L477.95 305.61M472.15 305.61L477.95 299.46M471.94 302.36H480.14M476.04 298.01V306.71M473.14 299.28L478.94 305.44M473.14 305.44L478.94 299.28M473.54 302.19H481.74M477.64 297.84V306.54M474.74 299.11L480.54 305.26M474.74 305.26L480.54 299.11M474.35 302.02H482.55M478.45 297.67V306.37M475.56 298.94L481.35 305.09M475.56 305.09L481.35 298.94M475.51 301.85H483.71M479.61 297.50V306.20M476.71 298.77L482.51 304.92M476.71 304.92L482.51 298.77M476.14 301.68H484.34M480.24 297.33V306.03M477.34 298.60L483.14 304.75M477.34 304.75L483.14 298.60M476.95 301.50H485.15M481.05 297.15V305.86M478.15 298.43L483.95 304.58M478.15 304.58L483.95 298.43M478.03 301.33H486.23M482.13 296.98V305.68M479.23 298.26L485.03 304.41M479.23 304.41L485.03 298.26M478.49 301.16H486.69M482.59 296.81V305.51M479.69 298.09L485.49 304.24M479.69 304.24L485.49 298.09M478.88 300.99H487.08M482.98 296.64V305.34M480.08 297.92L485.88 304.07M480.08 304.07L485.88 297.92M480.13 300.82H488.33M484.23 296.47V305.17M481.33 297.75L487.13 303.90M481.33 303.90L487.13 297.75M480.56 300.65H488.76M484.66 296.30V305.00M481.76 297.57L487.56 303.73M481.76 303.73L487.56 297.57M481.31 300.48H489.51M485.41 296.13V304.83M482.52 297.40L488.31 303.55M482.52 303.55L488.31 297.40M481.45 300.31H489.65M485.55 295.96V304.66M482.65 297.23L488.45 303.38M482.65 303.38L488.45 297.23M482.64 300.14H490.84M486.74 295.79V304.49M483.84 297.06L489.63 303.21M483.84 303.21L489.63 297.06M482.72 299.97H490.92M486.82 295.62V304.32M483.93 296.89L489.72 303.04M483.93 303.04L489.72 296.89M483.92 299.80H492.12M488.02 295.44V304.15M485.12 296.72L490.92 302.87M485.12 302.87L490.92 296.72M484.28 299.62H492.48M488.38 295.27V303.97M485.48 296.55L491.28 302.70M485.48 302.70L491.28 296.55M484.84 299.45H493.04M488.94 295.10V303.80M486.04 296.38L491.84 302.53M486.04 302.53L491.84 296.38M485.63 299.28H493.83M489.73 294.93V303.63M486.83 296.21L492.63 302.36M486.83 302.36L492.63 296.21M486.90 299.11H495.10M491.00 294.76V303.46M488.10 296.04L493.90 302.19M488.10 302.19L493.90 296.04M487.79 298.94H495.99M491.89 294.59V303.29M488.99 295.86L494.79 302.02M488.99 302.02L494.79 295.86M489.04 298.77H497.24M493.14 294.42V303.12M490.24 295.69L496.04 301.84M490.24 301.84L496.04 295.69M490.67 298.60H498.87M494.77 294.25V302.95M491.87 295.52L497.67 301.67M491.87 301.67L497.67 295.52M491.82 298.43H500.02M495.92 294.08V302.78M493.02 295.35L498.82 301.50M493.02 301.50L498.82 295.35M493.08 298.26H501.28M497.18 293.91V302.61M494.28 295.18L500.08 301.33M494.28 301.33L500.08 295.18M494.47 298.08H502.67M498.57 293.73V302.44M495.67 295.01L501.46 301.16M495.67 301.16L501.46 295.01M495.74 297.91H503.94M499.84 293.56V302.26M496.94 294.84L502.74 300.99M496.94 300.99L502.74 294.84M497.19 297.74H505.39M501.29 293.39V302.09M498.39 294.67L504.19 300.82M498.39 300.82L504.19 294.67M498.62 297.57H506.82M502.72 293.22V301.92M499.82 294.50L505.62 300.65M499.82 300.65L505.62 294.50M499.97 297.40H508.17M504.07 293.05V301.75M501.17 294.33L506.97 300.48M501.17 300.48L506.97 294.33M502.13 297.23H510.33M506.23 292.88V301.58M503.33 294.15L509.13 300.31M503.33 300.31L509.13 294.15M504.37 297.06H512.57M508.47 292.71V301.41M505.57 293.98L511.37 300.13M505.57 300.13L511.37 293.98M507.08 296.89H515.28M511.18 292.54V301.24M508.28 293.81L514.08 299.96M508.28 299.96L514.08 293.81M509.42 296.72H517.62M513.52 292.37V301.07M510.62 293.64L516.42 299.79M510.62 299.79L516.42 293.64M512.10 296.55H520.30M516.20 292.20V300.90M513.30 293.47L519.10 299.62M513.30 299.62L519.10 293.47M514.44 296.38H522.64M518.54 292.02V300.73M515.64 293.30L521.44 299.45M515.64 299.45L521.44 293.30M517.03 296.20H525.23M521.13 291.85V300.55M518.23 293.13L524.03 299.28M518.23 299.28L524.03 293.13M519.18 296.03H527.38M523.28 291.68V300.38M520.39 292.96L526.18 299.11M520.39 299.11L526.18 292.96M522.01 295.86H530.21M526.11 291.51V300.21M523.21 292.79L529.01 298.94M523.21 298.94L529.01 292.79M524.20 295.69H532.40M528.30 291.34V300.04M525.40 292.62L531.20 298.77M525.40 298.77L531.20 292.62M525.40 295.60H533.60M529.50 291.25V299.95M526.60 292.52L532.40 298.68M526.60 298.68L532.40 292.52" stroke="#0072BD" stroke-width="1.4" fill="none"/>
<g stroke="#D95319" fill="#D95319"><line x1="58.5" y1="360.5" x2="529.5" y2="18.5" stroke-width="9.4" stroke-linecap="round"/><line x1="61.33" y1="358.44" x2="529.5" y2="18.5" stroke-width="10.5"/><ellipse cx="529.6" cy="18.5" rx="5.35" ry="5.25" stroke="none"/></g>
<text class="tick" transform="translate(40.70,368.3) scale(1.1,1)">0</text>
<text class="tick" transform="translate(19.20,282.8) scale(1.1,1)">500</text>
<text class="tick" transform="translate(6.90,197.3) scale(1.1,1)">1000</text>
<text class="tick" transform="translate(7.60,111.8) scale(1.1,1)">1500</text>
<text class="tick" transform="translate(7.00,26.3) scale(1.1,1)">2000</text>
<text class="tick" transform="translate(53.70,383.9) scale(1.1,1)">0</text>
<text class="tick" transform="translate(171.40,383.9) scale(1.1,1)">5</text>
<text class="tick" transform="translate(284.30,383.9) scale(1.1,1)">10</text>
<text class="tick" transform="translate(402.30,383.9) scale(1.1,1)">15</text>
<text class="tick" transform="translate(519.00,383.9) scale(1.1,1)">20</text>
<text class="xl" text-anchor="middle" transform="translate(297,406.8) scale(1.29,1)">Time (sec)</text>
<rect x="282.2" y="32.0" width="232.6" height="44.4" fill="#fff" stroke="#262626" stroke-width="1.2"/>
<path d="M298.10 44.60H307.90M303.00 40.20V49.00M299.54 41.49L306.46 47.71M299.54 47.71L306.46 41.49" stroke="#0072BD" stroke-width="1.3" fill="none"/>
<ellipse cx="303" cy="64.4" rx="4.4" ry="4.0" stroke="#D95319" stroke-width="1.5" fill="none"/>
<text class="lg" transform="translate(322.5,47.6) scale(1.08,1)">Event-triggered method</text>
<text class="lg" transform="translate(322.5,67.8) scale(1.08,1)">Time-triggered method</text>
</svg></body></html>
